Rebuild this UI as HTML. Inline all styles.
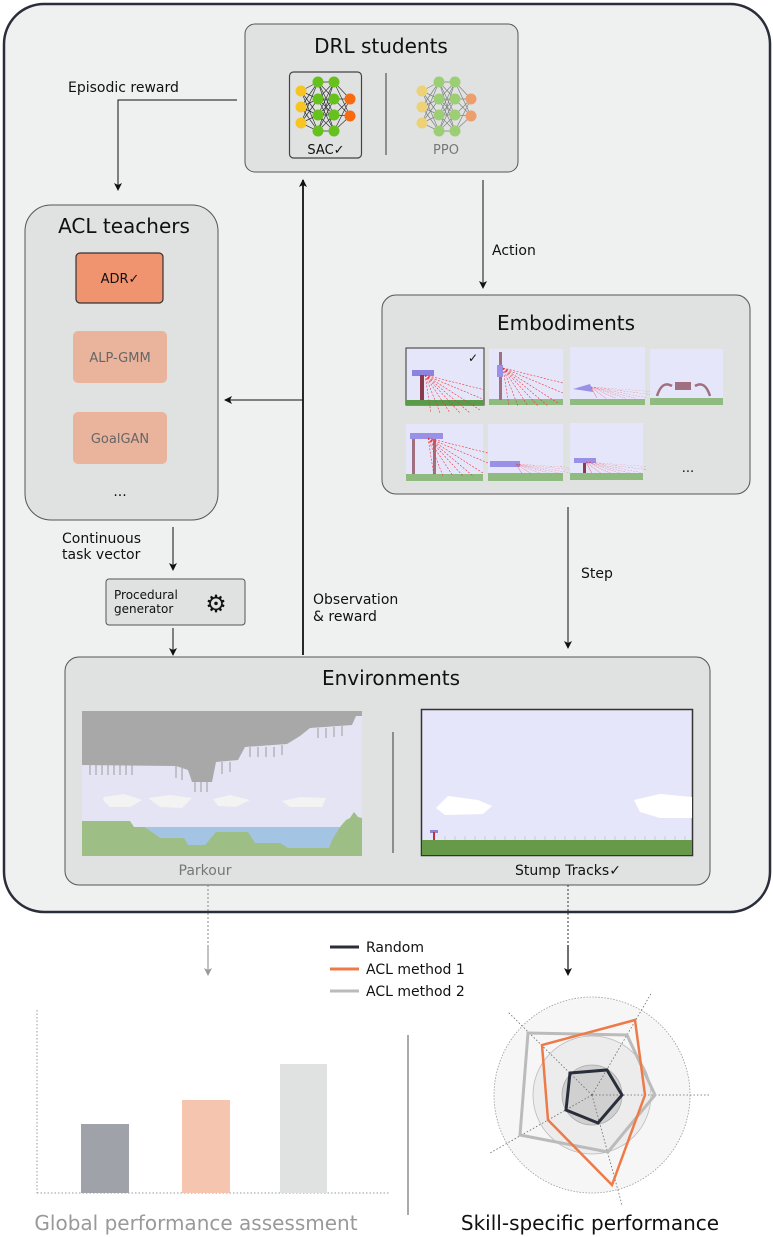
<!DOCTYPE html>
<html><head><meta charset="utf-8"><style>
html,body{margin:0;padding:0;background:#fff}
svg{display:block;font-family:"DejaVu Sans","Liberation Sans",sans-serif}
</style></head><body>
<svg width="773" height="1237" viewBox="0 0 773 1237" xmlns="http://www.w3.org/2000/svg">
<defs>
<marker id="ah" markerWidth="8" markerHeight="8" refX="7" refY="4" orient="auto" markerUnits="userSpaceOnUse"><path d="M0,0 L8,4 L0,8 L2,4 Z" fill="#111"/></marker>
<marker id="ahg" markerWidth="8" markerHeight="8" refX="7" refY="4" orient="auto" markerUnits="userSpaceOnUse"><path d="M0,0 L8,4 L0,8 L2,4 Z" fill="#999"/></marker>
<g id="net">
 <g stroke="#333" stroke-width="0.7">
  <path d="M0,0 L17,-9 M0,0 L17,8 M0,0 L17,24 M0,0 L17,40 M0,16 L17,-9 M0,16 L17,8 M0,16 L17,24 M0,16 L17,40 M0,32 L17,-9 M0,32 L17,8 M0,32 L17,24 M0,32 L17,40"/>
  <path d="M17,-9 L33,-9 M17,-9 L33,8 M17,-9 L33,24 M17,-9 L33,40 M17,8 L33,-9 M17,8 L33,8 M17,8 L33,24 M17,8 L33,40 M17,24 L33,-9 M17,24 L33,8 M17,24 L33,24 M17,24 L33,40 M17,40 L33,-9 M17,40 L33,8 M17,40 L33,24 M17,40 L33,40"/>
  <path d="M33,-9 L49,8 M33,-9 L49,25 M33,8 L49,8 M33,8 L49,25 M33,24 L49,8 M33,24 L49,25 M33,40 L49,8 M33,40 L49,25"/>
 </g>
 <g fill="#f7c522"><circle cx="0" cy="0" r="5.5"/><circle cx="0" cy="16" r="5.5"/><circle cx="0" cy="32" r="5.5"/></g>
 <g fill="#66c11d"><circle cx="17" cy="-9" r="5.5"/><circle cx="17" cy="8" r="5.5"/><circle cx="17" cy="24" r="5.5"/><circle cx="17" cy="40" r="5.5"/><circle cx="33" cy="-9" r="5.5"/><circle cx="33" cy="8" r="5.5"/><circle cx="33" cy="24" r="5.5"/><circle cx="33" cy="40" r="5.5"/></g>
 <g fill="#f76a10"><circle cx="49" cy="8" r="5.5"/><circle cx="49" cy="25" r="5.5"/></g>
</g>
<g id="rays" stroke="#e33" stroke-width="0.6" stroke-dasharray="2,1.5" fill="none">
 <path d="M0,0 L60,15 M0,0 L60,25 M0,0 L55,35 M0,0 L45,38 M0,0 L35,38 M0,0 L25,38 M0,0 L15,38 M0,0 L6,38"/>
</g>
</defs>

<rect x="4" y="4" width="766" height="908" rx="40" fill="#eff0f0" stroke="#2a2d3a" stroke-width="2.5"/>

<!-- DRL students -->
<rect x="245" y="24" width="273" height="148" rx="10" fill="#e0e1e1" stroke="#555" stroke-width="1"/>
<text x="381" y="53" font-size="20" text-anchor="middle" fill="#111">DRL students</text>
<rect x="289.5" y="72" width="72" height="86" rx="4" fill="#e0e1e1" stroke="#444" stroke-width="1.2"/>
<use href="#net" x="301" y="91"/>
<text x="326" y="154" font-size="13" text-anchor="middle" fill="#111">SAC✓</text>
<line x1="386" y1="73" x2="386" y2="155" stroke="#555" stroke-width="1.2"/>
<g opacity="0.55"><use href="#net" x="422" y="91"/></g>
<text x="446" y="154" font-size="13" text-anchor="middle" fill="#777">PPO</text>

<text x="68" y="92" font-size="14" fill="#111">Episodic reward</text>
<polyline points="237,100 118,100 118,190" fill="none" stroke="#111" stroke-width="1" marker-end="url(#ah)"/>

<!-- ACL teachers -->
<rect x="25" y="205" width="193" height="315" rx="26" fill="#e0e1e1" stroke="#555" stroke-width="1"/>
<text x="124" y="233" font-size="20" text-anchor="middle" fill="#111">ACL teachers</text>
<rect x="76" y="253" width="87" height="50" rx="4" fill="#f09470" stroke="#333" stroke-width="1.2"/>
<text x="120" y="283" font-size="13" text-anchor="middle" fill="#111">ADR✓</text>
<rect x="73" y="331" width="94" height="52" rx="5" fill="#eab39c"/>
<text x="120" y="362" font-size="13" text-anchor="middle" fill="#666">ALP-GMM</text>
<rect x="73" y="412" width="94" height="52" rx="5" fill="#eab39c"/>
<text x="120" y="443" font-size="13" text-anchor="middle" fill="#666">GoalGAN</text>
<text x="120" y="496" font-size="14" text-anchor="middle" fill="#111">...</text>

<line x1="303" y1="655" x2="303" y2="180" stroke="#111" stroke-width="1.8" marker-end="url(#ah)"/>
<line x1="303" y1="400" x2="225" y2="400" stroke="#111" stroke-width="1" marker-end="url(#ah)"/>
<text x="313" y="604" font-size="14" fill="#111">Observation</text>
<text x="313" y="621" font-size="14" fill="#111">&amp; reward</text>

<line x1="483" y1="180" x2="483" y2="288" stroke="#111" stroke-width="1" marker-end="url(#ah)"/>
<text x="492" y="255" font-size="14" fill="#111">Action</text>

<!-- Embodiments -->
<rect x="382" y="295" width="368" height="199" rx="14" fill="#e0e1e1" stroke="#555" stroke-width="1"/>
<text x="566" y="330" font-size="20" text-anchor="middle" fill="#111">Embodiments</text>
<g>
 <rect x="406" y="348" width="78" height="57" fill="#e6e6fa" stroke="#333" stroke-width="1"/>
 <rect x="406" y="400" width="78" height="5" fill="#5a9a48"/>
 <rect x="412" y="370" width="22" height="6" fill="#8c82e0"/>
 <rect x="420" y="375" width="4" height="25" fill="#8a3a4a"/>
 <use href="#rays" x="425" y="375"/>
 <text x="478" y="362" font-size="12" text-anchor="end" fill="#111">✓</text>
 <rect x="489" y="349" width="74" height="56" fill="#e6e6fa"/>
 <rect x="489" y="399" width="74" height="6" fill="#8fbb80"/>
 <rect x="499" y="352" width="3" height="48" fill="#a07080"/>
 <rect x="497" y="365" width="6" height="12" fill="#9a90e8"/>
 <use href="#rays" x="503" y="368"/>
 <rect x="570" y="347" width="75" height="58" fill="#e6e6fa"/>
 <rect x="570" y="399" width="75" height="6" fill="#8fbb80"/>
 <polygon points="573,389 590,384 593,392" fill="#9a90e8"/>
 <g transform="translate(591,387) scale(1,0.3)"><use href="#rays"/></g>
 <rect x="650" y="349" width="73" height="56" fill="#e6e6fa"/>
 <rect x="650" y="398" width="73" height="7" fill="#8fbb80"/>
 <path d="M657,396 Q662,380 672,386 M695,386 Q705,380 710,396" stroke="#a07080" stroke-width="2.5" fill="none"/>
 <rect x="675" y="382" width="16" height="8" fill="#a07080"/>
 <rect x="406" y="424" width="77" height="57" fill="#e6e6fa"/>
 <rect x="406" y="474" width="77" height="7" fill="#8fbb80"/>
 <rect x="410" y="433" width="33" height="6" fill="#9a90e8"/>
 <rect x="412" y="439" width="3" height="35" fill="#a07080"/><rect x="433" y="439" width="3" height="35" fill="#a07080"/>
 <use href="#rays" x="428" y="438"/>
 <rect x="488" y="424" width="75" height="57" fill="#e6e6fa"/>
 <rect x="488" y="473" width="75" height="8" fill="#8fbb80"/>
 <rect x="490" y="461" width="30" height="6" fill="#9a90e8"/>
 <g transform="translate(516,464) scale(1,0.25)"><use href="#rays"/></g>
 <rect x="570" y="423" width="73" height="57" fill="#e6e6fa"/>
 <rect x="570" y="473" width="73" height="7" fill="#8fbb80"/>
 <rect x="574" y="458" width="22" height="5" fill="#9a90e8"/>
 <rect x="583" y="463" width="3" height="10" fill="#8a3a4a"/>
 <g transform="translate(586,462) scale(1,0.3)"><use href="#rays"/></g>
 <text x="688" y="472" font-size="13" text-anchor="middle" fill="#111">...</text>
</g>

<line x1="568" y1="507" x2="568" y2="648" stroke="#111" stroke-width="1" marker-end="url(#ah)"/>
<text x="581" y="578" font-size="14" fill="#111">Step</text>

<text x="62" y="543" font-size="14" fill="#111">Continuous</text>
<text x="62" y="559" font-size="14" fill="#111">task vector</text>
<line x1="173" y1="527" x2="173" y2="570" stroke="#111" stroke-width="1" marker-end="url(#ah)"/>
<rect x="106" y="579" width="139" height="46" rx="3" fill="#e0e1e1" stroke="#555" stroke-width="1"/>
<text x="114" y="599" font-size="12" fill="#111">Procedural</text>
<text x="114" y="613" font-size="12" fill="#111">generator</text>
<text x="216" y="612" font-size="24" font-weight="bold" text-anchor="middle" fill="#111">⚙</text>
<line x1="173" y1="628" x2="173" y2="655" stroke="#111" stroke-width="1" marker-end="url(#ah)"/>

<!-- Environments -->
<rect x="65" y="657" width="645" height="228" rx="14" fill="#e0e1e1" stroke="#555" stroke-width="1"/>
<text x="391" y="685" font-size="20" text-anchor="middle" fill="#111">Environments</text>
<rect x="82" y="711" width="280" height="145" fill="#e4e4f4"/>
<path d="M82,711 L362,711 L362,716 L356,716 L352,725 L310,728 L300,736 L287,744 L245,747 L238,760 L216,762 L212,782 L192,782 L188,770 L176,766 L82,765 Z" fill="#a8a8a8"/>
<g stroke="#a8a8a8" stroke-width="1.2">
 <path d="M90,765 v10 M96,765 v10 M102,765 v10 M108,765 v10 M114,765 v10 M120,765 v10 M126,765 v10 M132,765 v10 M176,766 v12 M182,768 v12 M195,782 v10 M201,782 v10 M207,782 v10 M222,762 v12 M230,762 v10 M250,747 v10 M258,747 v10 M266,747 v10 M274,747 v10 M282,745 v10 M318,728 v10 M326,728 v10 M334,727 v10 M342,726 v10"/>
</g>
<g fill="#f3f3f3"><polygon points="104,797 124,794 142,800 130,807 110,807 103,800"/><polygon points="148,798 170,795 192,798 182,808 160,807"/><polygon points="213,799 230,795 250,800 236,807 218,806"/><polygon points="282,801 300,797 326,798 322,807 290,807"/></g>
<path d="M82,821 L130,821 L134,827 L340,827 L346,820 L350,818 L354,812 L358,817 L362,818 L362,856 L82,856 Z" fill="#9dbe85"/>
<path d="M144,827 L340,827 L332,840 L329,848 L288,848 L280,843 L255,843 L248,832 L216,832 L205,845 L188,845 L184,838 L160,838 L155,834 Z" fill="#a4c4e4"/>
<line x1="393" y1="732" x2="393" y2="853" stroke="#555" stroke-width="1.2"/>
<rect x="421.5" y="709.5" width="271" height="146" fill="#e6e6fa" stroke="#333" stroke-width="1.5"/>
<rect x="422" y="840" width="270" height="15" fill="#669a48"/>
<polygon points="436,808 448,796 478,800 492,806 483,814 445,815" fill="#fff"/>
<polygon points="634,800 660,794 692,797 692,818 660,818 640,812" fill="#fff"/>
<rect x="430" y="830" width="8" height="3" fill="#8c82e0"/><rect x="433" y="832" width="2" height="8" fill="#c03040"/>
<g stroke="#ccc" stroke-width="1"><path d="M445,840 v-4 M455,840 v-4 M465,840 v-4 M475,840 v-4 M485,840 v-4 M495,840 v-4 M505,840 v-4 M515,840 v-4 M525,840 v-4 M535,840 v-4 M545,840 v-4 M555,840 v-4 M565,840 v-4 M575,840 v-4 M585,840 v-4 M595,840 v-4 M605,840 v-4 M615,840 v-4 M625,840 v-4 M635,840 v-4 M645,840 v-4 M655,840 v-4 M665,840 v-4 M675,840 v-4 M685,840 v-4"/></g>
<text x="205" y="875" font-size="14" text-anchor="middle" fill="#777">Parkour</text>
<text x="568" y="875" font-size="14" text-anchor="middle" fill="#111">Stump Tracks✓</text>

<line x1="208" y1="885" x2="208" y2="945" stroke="#888" stroke-width="1" stroke-dasharray="2,2"/>
<line x1="208" y1="945" x2="208" y2="975" stroke="#999" stroke-width="1.2" marker-end="url(#ahg)"/>
<line x1="568" y1="885" x2="568" y2="945" stroke="#333" stroke-width="1" stroke-dasharray="2,2"/>
<line x1="568" y1="945" x2="568" y2="975" stroke="#111" stroke-width="1.2" marker-end="url(#ah)"/>

<line x1="330" y1="947" x2="359" y2="947" stroke="#2a2d3a" stroke-width="3"/>
<text x="366" y="952" font-size="14" fill="#111">Random</text>
<line x1="330" y1="969" x2="359" y2="969" stroke="#ee7a48" stroke-width="3"/>
<text x="366" y="974" font-size="14" fill="#111">ACL method 1</text>
<line x1="330" y1="991" x2="359" y2="991" stroke="#bbb" stroke-width="3"/>
<text x="366" y="996" font-size="14" fill="#111">ACL method 2</text>

<line x1="37" y1="1010" x2="37" y2="1193" stroke="#999" stroke-width="1" stroke-dasharray="1.5,2"/>
<line x1="37" y1="1193" x2="390" y2="1193" stroke="#999" stroke-width="1" stroke-dasharray="1.5,2"/>
<rect x="81" y="1124" width="48" height="69" fill="#a0a2a9"/>
<rect x="182" y="1100" width="48" height="93" fill="#f6c5af"/>
<rect x="280" y="1064" width="47" height="129" fill="#e0e1e1"/>
<text x="196" y="1230" font-size="20" text-anchor="middle" fill="#999">Global performance assessment</text>
<line x1="408" y1="1035" x2="408" y2="1215" stroke="#555" stroke-width="1"/>

<circle cx="592" cy="1095" r="98" fill="#f6f6f6" stroke="#999" stroke-width="0.8" stroke-dasharray="1.5,1.5"/>
<circle cx="592" cy="1095" r="59" fill="#ececec" stroke="#bbb" stroke-width="0.8"/>
<circle cx="592" cy="1095" r="30" fill="#d0d0d0" stroke="#aaa" stroke-width="0.8"/>
<g stroke="#666" stroke-width="0.8" stroke-dasharray="1.5,2" fill="none">
 <line x1="592" y1="1095" x2="652" y2="992"/><line x1="592" y1="1095" x2="508" y2="1012"/><line x1="592" y1="1095" x2="710" y2="1095"/><line x1="592" y1="1095" x2="490" y2="1153"/><line x1="592" y1="1095" x2="622" y2="1205"/>
</g>
<polygon points="528,1033 627,1035 655,1095 608,1152 520,1135" fill="none" stroke="#bbb" stroke-width="3"/>
<polygon points="635,1020 645,1095 612,1185 548,1120 542,1045" fill="none" stroke="#ee7a48" stroke-width="2.5"/>
<polygon points="570,1073 607,1070 622,1095 598,1123 566,1110" fill="none" stroke="#2a2d3a" stroke-width="3"/>
<text x="590" y="1230" font-size="20" text-anchor="middle" fill="#111">Skill-specific performance</text>
</svg>
</body></html>
